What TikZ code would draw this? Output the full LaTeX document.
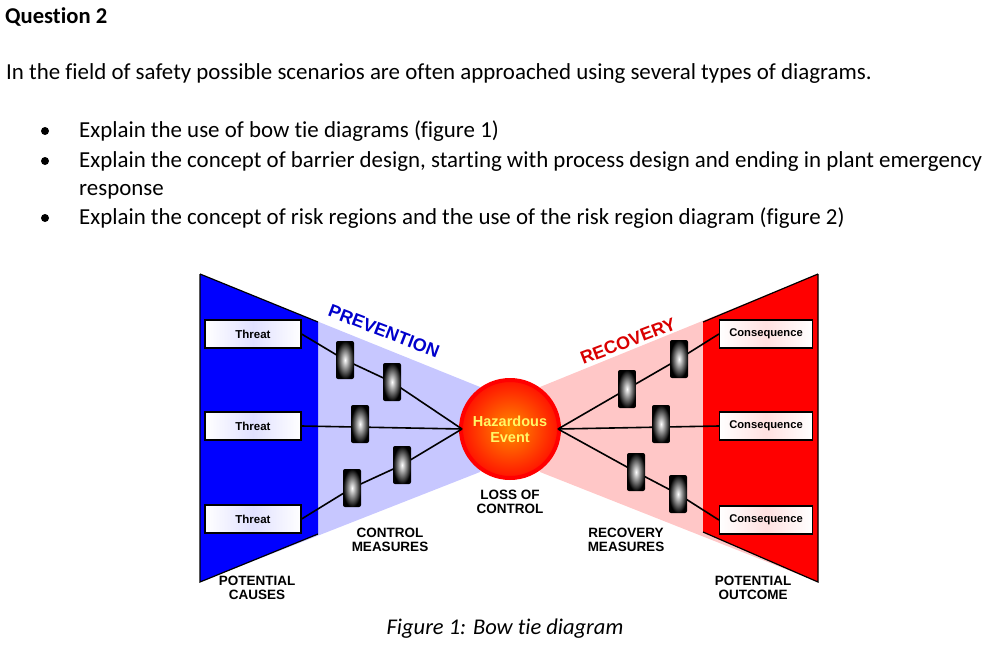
\documentclass[tikz,border=0pt]{standalone}
\usepackage{fontspec}
\setmainfont[Ligatures={NoCommon,NoRare}]{Carlito}
\newfontfamily\arialf{Liberation Sans}
\begin{document}
\begin{tikzpicture}[x=1pt,y=-1pt,
  para/.style={anchor=base west,font=\fontsize{22.9}{26}\selectfont,inner sep=0},
  lbl/.style={font=\arialf\bfseries\fontsize{13.5}{13.5}\selectfont,align=center,inner sep=0},
  box/.style={draw=black,line width=1.2pt,minimum width=96pt,minimum height=28pt,inner sep=1pt,left color=white,right color=white,middle color=blue!12,font=\arialf\bfseries\fontsize{11.5}{12}\selectfont},
  cbox/.style={box,minimum width=93pt,middle color=red!12,font=\arialf\bfseries\fontsize{11.2}{12}\selectfont},
  bar/.style={rounded corners=2pt,minimum width=18pt,minimum height=38pt,inner color=white,outer color=black,inner sep=0},
  ln/.style={line width=1.6pt}]
\useasboundingbox (0,0) rectangle (987,658);
\node[anchor=base west,inner sep=0,font=\bfseries\fontsize{22.6}{26}\selectfont] (q) at (5,24) {Question 2};
\node[para] (p) at (6,80) {In the field of safety possible scenarios are often approached using several types of diagrams.};
\foreach \y in {137,167,224}{\fill (45,\y-6) circle (4pt);}
\node[para] (l1) at (79,137) {Explain the use of bow tie diagrams (figure 1)};
\node[para] (l2) at (79,167) {Explain the concept of barrier design, starting with process design and ending in plant emergency};
\node[para] (l2b) at (79,195) {response};
\node[para] (l3) at (79,224) {Explain the concept of risk regions and the use of the risk region diagram (figure 2)};
% fans
\fill[blue!22] (200,274) -- (480,387) -- (480,472) -- (200,582) -- cycle;
\fill[red!22] (818,274) -- (540,387) -- (540,472) -- (818,582) -- cycle;
\fill[blue] (200,274) -- (318,322) -- (318,534) -- (200,582) -- cycle;
\fill[red] (818,274) -- (703,322) -- (703,532) -- (818,582) -- cycle;
\draw[line width=1.2pt] (200,274) -- (318,322) (200,274) -- (200,582) -- (318,534);
\draw[line width=1.2pt] (818,274) -- (703,322) (818,274) -- (818,582) -- (703,532);
% event
\node[circle,minimum size=98pt,inner color=orange!90!yellow,outer color=red!85!orange,draw=red,line width=4pt,font=\arialf\bfseries\fontsize{14.5}{16}\selectfont,text=yellow!60!white,align=center] (ev) at (510,429) {Hazardous\\Event};
% threats
\node[box] (t1) at (253,334) {Threat};
\node[box] (t2) at (253,426) {Threat};
\node[box] (t3) at (253,519) {Threat};
\node[cbox] (c1) at (766,334) {Consequence};
\node[cbox] (c2) at (766,426) {Consequence};
\node[cbox] (c3) at (766,520) {Consequence};
\coordinate (el) at (462,429);
\coordinate (er) at (558,429);
\draw[ln] (t1.east) -- (345,360) -- (392,382) -- (el);
\draw[ln] (t2.east) -- (el);
\draw[ln] (t3.east) -- (352,488) -- (402,465) -- (el);
\draw[ln] (c1.west) -- (679,359) -- (627,389) -- (er);
\draw[ln] (c2.west) -- (er);
\draw[ln] (c3.west) -- (678,494) -- (636,472) -- (er);
\foreach \p/\n in {{(345,360)}/a1,{(392,382)}/a2,{(360,424)}/a3,{(352,488)}/a4,{(402,465)}/a5,{(627,389)}/b1,{(679,359)}/b2,{(661,424)}/b3,{(636,472)}/b4,{(678,494)}/b5}
  \node[bar] (\n) at \p {};
% labels
\node[font=\arialf\bfseries\fontsize{18}{18}\selectfont,text=blue!80!black,rotate=-21] (pv) at (384,331) {PREVENTION};
\node[font=\arialf\bfseries\fontsize{18}{18}\selectfont,text=red!85!black,rotate=21] (rc) at (628,341) {RECOVERY};
\node[lbl] (loss) at (510,502) {LOSS OF\\CONTROL};
\node[lbl] (cm) at (390,540) {CONTROL\\MEASURES};
\node[lbl] (rm) at (626,540) {RECOVERY\\MEASURES};
\node[lbl] (pc) at (257,588) {POTENTIAL\\CAUSES};
\node[lbl] (po) at (753,588) {POTENTIAL\\OUTCOME};
\node[font=\itshape\fontsize{22.5}{24}\selectfont] (cap) at (505,629) {Figure 1: Bow tie diagram};
\end{tikzpicture}
\end{document}
